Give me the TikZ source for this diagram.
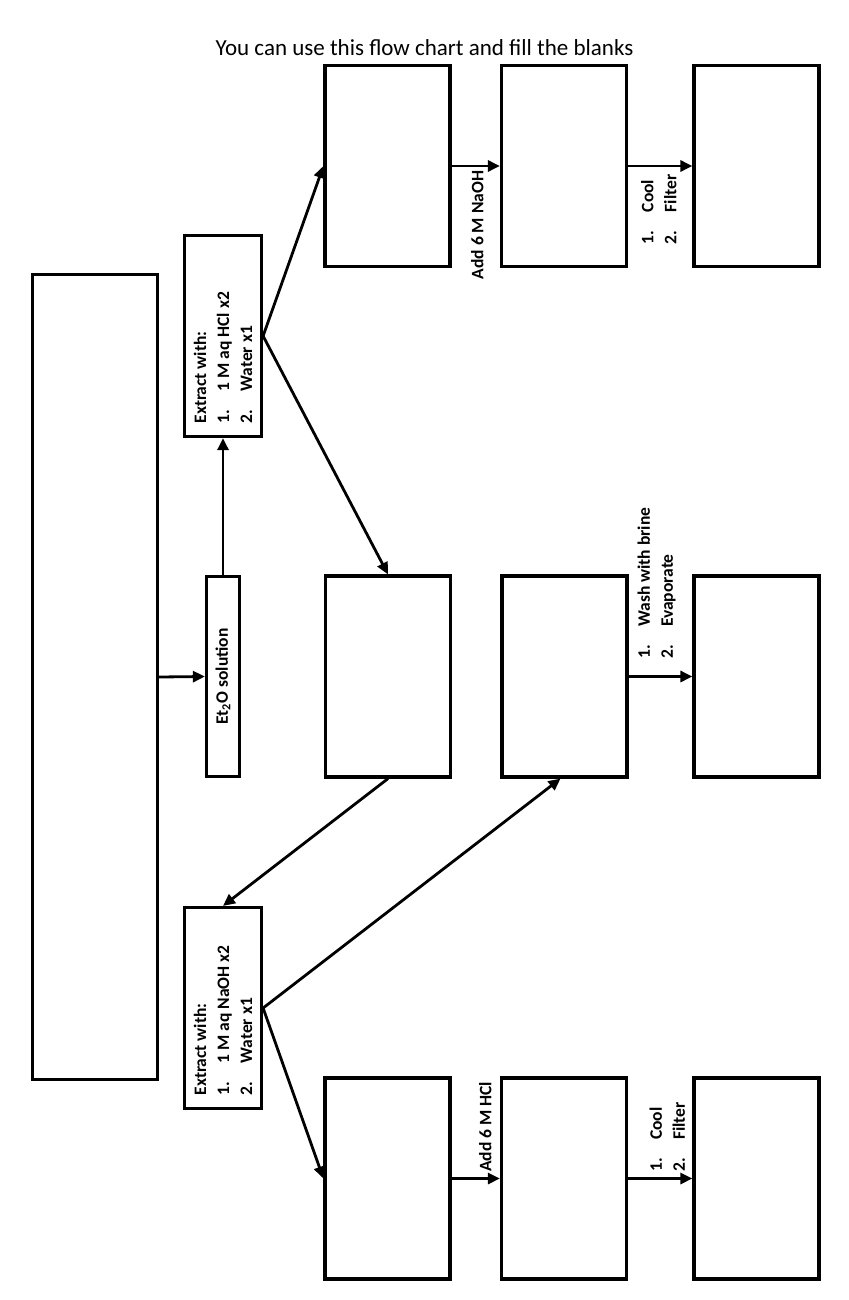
\documentclass[tikz,border=0pt]{standalone}
\usepackage{fontspec}
\setmainfont{Carlito}
\usetikzlibrary{arrows.meta}

\begin{document}
\begin{tikzpicture}[x=1pt, y=-1pt,
        blank/.style={draw, line width=3.2pt, minimum width=125pt, minimum height=201pt},
        tag/.style={rotate=90, align=left, font=\bfseries\fontsize{17.5}{23}\selectfont},
        flow/.style={-{Triangle[length=12pt, width=11pt]}, line width=2.8pt}]
            \useasboundingbox (0,0) rectangle (848,1300);
            \node [anchor=base, font=\fontsize{23}{28}\selectfont] (title) at (424.5,56) {You can use this flow chart and fill the blanks};
            % left column
            \node [draw, line width=3.2pt, minimum width=125pt, minimum height=805pt] (mix) at (95,677) {};
            \node [draw, line width=3.2pt, tag, minimum width=200pt, minimum height=33pt] (ether) at (223,676.5) {Et\textsubscript{2}O solution};
            \node [draw, line width=3.2pt, tag, minimum height=77pt, text width=175pt, inner xsep=13pt] (hcl) at (223,336) {\spaceskip0pt\xspaceskip0pt Extract with:\\\makebox[32pt][l]{1.}1 M aq HCl x2\\\makebox[32pt][l]{2.}Water x1};
            \node [draw, line width=3.2pt, tag, minimum height=77pt, text width=175pt, inner xsep=13pt] (naoh) at (223,1008) {\spaceskip0pt\xspaceskip0pt Extract with:\\\makebox[32pt][l]{1.}1 M aq NaOH x2\\\makebox[32pt][l]{2.}Water x1};
            % blanks
            \node [blank] (acid) at (387.5,166) {};
            \node [blank] (acidbase) at (564,166) {};
            \node [blank] (acidend) at (756.5,166) {};
            \node [blank] (organic) at (388,676.5) {};
            \node [blank] (neutral) at (564.5,676.5) {};
            \node [blank] (neutralend) at (756.5,676.5) {};
            \node [blank] (base) at (387.5,1178.5) {};
            \node [blank] (baseacid) at (564,1178.5) {};
            \node [blank] (baseend) at (756.5,1178.5) {};
            % connectors
            \draw [flow] (mix.east) -- (ether.north);
            \draw [flow] (ether.east) -- (hcl.west);
            \draw [flow] (hcl.south) -- (acid.west);
            \draw [flow] (hcl.south) -- (organic.north);
            \draw [flow] (organic.south) -- (naoh.east);
            \draw [flow] (naoh.south) -- ([xshift=-4pt]neutral.south);
            \draw [flow] (naoh.south) -- (base.west);
            \draw [flow] (acid) -- node [midway, xshift=1.5pt, tag, anchor=east] {Add 6 M NaOH} (acidbase);
            \draw [flow] (acidbase) -- node [midway, xshift=-1.5pt, yshift=-4pt, tag, anchor=east] {\makebox[32pt][l]{1.}Cool\\\makebox[32pt][l]{2.}Filter} (acidend);
            \draw [flow] (neutral) -- node [midway, xshift=-4pt, yshift=13pt, tag, anchor=west] {\makebox[32pt][l]{1.}Wash with brine\\\makebox[32pt][l]{2.}Evaporate} (neutralend);
            \draw [flow] (base) -- node [midway, xshift=9.5pt, yshift=2pt, tag, anchor=west] {Add 6 M HCl} (baseacid);
            \draw [flow] (baseacid) -- node [midway, xshift=7pt, yshift=2pt, tag, anchor=west] {\makebox[32pt][l]{1.}Cool\\\makebox[32pt][l]{2.}Filter} (baseend);
        \end{tikzpicture}
\end{document}
